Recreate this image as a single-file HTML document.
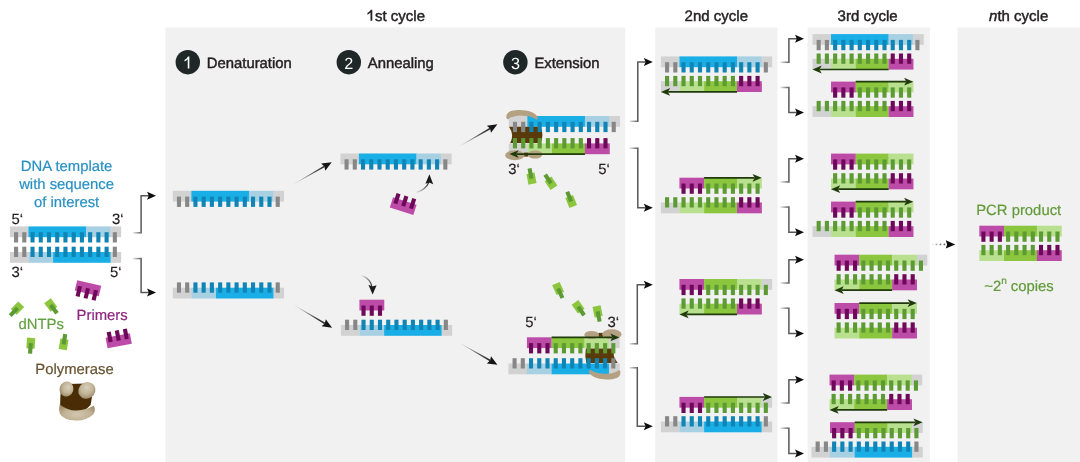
<!DOCTYPE html>
<html><head><meta charset="utf-8"><title>PCR</title><style>html,body{margin:0;padding:0;background:#fff;}body{width:1080px;height:462px;overflow:hidden;font-family:"Liberation Sans",sans-serif;}svg{display:block;text-rendering:geometricPrecision;filter:blur(0.33px);}</style></head><body>
<svg width="1090" height="472" viewBox="0 0 1090 472" font-family="&apos;Liberation Sans&apos;, sans-serif"><defs><radialGradient id="pg" cx="0.5" cy="0.45" r="0.6"><stop offset="0" stop-color="#c9bba2"/><stop offset="1" stop-color="#ac9878"/></radialGradient><radialGradient id="pg2" cx="0.55" cy="0.4" r="0.65" fx="0.6" fy="0.35"><stop offset="0" stop-color="#d8cfbc"/><stop offset="0.55" stop-color="#c3b598"/><stop offset="1" stop-color="#998563"/></radialGradient><radialGradient id="pg3" cx="0.5" cy="0.62" r="0.6"><stop offset="0" stop-color="#d2c7b2"/><stop offset="0.65" stop-color="#bfb193"/><stop offset="1" stop-color="#a3906f"/></radialGradient><linearGradient id="bg0" gradientUnits="userSpaceOnUse" x1="133" y1="0" x2="141.1" y2="0"><stop offset="0" stop-color="#5a5a5a" stop-opacity="0.15"/><stop offset="1" stop-color="#5a5a5a"/></linearGradient><linearGradient id="bg1" gradientUnits="userSpaceOnUse" x1="133" y1="0" x2="141.1" y2="0"><stop offset="0" stop-color="#5a5a5a" stop-opacity="0.15"/><stop offset="1" stop-color="#5a5a5a"/></linearGradient><linearGradient id="ag0" gradientUnits="userSpaceOnUse" x1="293.6" y1="184.1" x2="331.7" y2="162.2"><stop offset="0" stop-color="#151515" stop-opacity="0.05"/><stop offset="0.6" stop-color="#151515" stop-opacity="0.8"/><stop offset="1" stop-color="#151515"/></linearGradient><linearGradient id="ag1" gradientUnits="userSpaceOnUse" x1="294.1" y1="305.2" x2="332.1" y2="327.7"><stop offset="0" stop-color="#151515" stop-opacity="0.05"/><stop offset="0.6" stop-color="#151515" stop-opacity="0.8"/><stop offset="1" stop-color="#151515"/></linearGradient><linearGradient id="ca1" gradientUnits="userSpaceOnUse" x1="416.5" y1="192.5" x2="429" y2="182"><stop offset="0" stop-color="#222" stop-opacity="0.1"/><stop offset="1" stop-color="#222"/></linearGradient><linearGradient id="ca2" gradientUnits="userSpaceOnUse" x1="362.3" y1="275.6" x2="372" y2="287"><stop offset="0" stop-color="#222" stop-opacity="0.1"/><stop offset="1" stop-color="#222"/></linearGradient><linearGradient id="ag2" gradientUnits="userSpaceOnUse" x1="459.3" y1="146.3" x2="497.4" y2="124.3"><stop offset="0" stop-color="#151515" stop-opacity="0.05"/><stop offset="0.6" stop-color="#151515" stop-opacity="0.8"/><stop offset="1" stop-color="#151515"/></linearGradient><linearGradient id="ag3" gradientUnits="userSpaceOnUse" x1="459.9" y1="343.1" x2="497.4" y2="364.8"><stop offset="0" stop-color="#151515" stop-opacity="0.05"/><stop offset="0.6" stop-color="#151515" stop-opacity="0.8"/><stop offset="1" stop-color="#151515"/></linearGradient><linearGradient id="bg2" gradientUnits="userSpaceOnUse" x1="629.5" y1="0" x2="637.8" y2="0"><stop offset="0" stop-color="#5a5a5a" stop-opacity="0.15"/><stop offset="1" stop-color="#5a5a5a"/></linearGradient><linearGradient id="bg3" gradientUnits="userSpaceOnUse" x1="629.5" y1="0" x2="637.8" y2="0"><stop offset="0" stop-color="#5a5a5a" stop-opacity="0.15"/><stop offset="1" stop-color="#5a5a5a"/></linearGradient><linearGradient id="bg4" gradientUnits="userSpaceOnUse" x1="629.3" y1="0" x2="637.3" y2="0"><stop offset="0" stop-color="#5a5a5a" stop-opacity="0.15"/><stop offset="1" stop-color="#5a5a5a"/></linearGradient><linearGradient id="bg5" gradientUnits="userSpaceOnUse" x1="629.3" y1="0" x2="637.3" y2="0"><stop offset="0" stop-color="#5a5a5a" stop-opacity="0.15"/><stop offset="1" stop-color="#5a5a5a"/></linearGradient><linearGradient id="bg6" gradientUnits="userSpaceOnUse" x1="780.3" y1="0" x2="788.9" y2="0"><stop offset="0" stop-color="#5a5a5a" stop-opacity="0.15"/><stop offset="1" stop-color="#5a5a5a"/></linearGradient><linearGradient id="bg7" gradientUnits="userSpaceOnUse" x1="780.3" y1="0" x2="788.9" y2="0"><stop offset="0" stop-color="#5a5a5a" stop-opacity="0.15"/><stop offset="1" stop-color="#5a5a5a"/></linearGradient><linearGradient id="bg8" gradientUnits="userSpaceOnUse" x1="780.3" y1="0" x2="788.9" y2="0"><stop offset="0" stop-color="#5a5a5a" stop-opacity="0.15"/><stop offset="1" stop-color="#5a5a5a"/></linearGradient><linearGradient id="bg9" gradientUnits="userSpaceOnUse" x1="780.3" y1="0" x2="788.9" y2="0"><stop offset="0" stop-color="#5a5a5a" stop-opacity="0.15"/><stop offset="1" stop-color="#5a5a5a"/></linearGradient><linearGradient id="bg10" gradientUnits="userSpaceOnUse" x1="780.3" y1="0" x2="788.9" y2="0"><stop offset="0" stop-color="#5a5a5a" stop-opacity="0.15"/><stop offset="1" stop-color="#5a5a5a"/></linearGradient><linearGradient id="bg11" gradientUnits="userSpaceOnUse" x1="780.3" y1="0" x2="788.9" y2="0"><stop offset="0" stop-color="#5a5a5a" stop-opacity="0.15"/><stop offset="1" stop-color="#5a5a5a"/></linearGradient><linearGradient id="bg12" gradientUnits="userSpaceOnUse" x1="780.3" y1="0" x2="788.9" y2="0"><stop offset="0" stop-color="#5a5a5a" stop-opacity="0.15"/><stop offset="1" stop-color="#5a5a5a"/></linearGradient><linearGradient id="bg13" gradientUnits="userSpaceOnUse" x1="780.3" y1="0" x2="788.9" y2="0"><stop offset="0" stop-color="#5a5a5a" stop-opacity="0.15"/><stop offset="1" stop-color="#5a5a5a"/></linearGradient></defs><rect x="165.5" y="27.5" width="459.7" height="450" fill="#f1f1f1"/>
<rect x="655.2" y="27.5" width="122.3" height="450" fill="#f1f1f1"/>
<rect x="807.6" y="27.5" width="122.2" height="450" fill="#f1f1f1"/>
<rect x="957.6" y="27.5" width="137.4" height="450" fill="#f1f1f1"/>
<path d="M372.3 9.7 L372.3 20.7 L370.5 20.7 L370.5 12.6 Q369.1 14 367.4 14.7 L367.4 13 Q369.8 11.7 370.9 9.7 Z" fill="#231f20"/>
<text x="375" y="20.8" fill="#231f20" stroke="#231f20" stroke-width="0.45" font-size="15" text-anchor="start">st cycle</text>
<text x="716.3" y="20.8" fill="#231f20" stroke="#231f20" stroke-width="0.45" font-size="15" text-anchor="middle">2nd cycle</text>
<text x="867.6" y="20.8" fill="#231f20" stroke="#231f20" stroke-width="0.45" font-size="15" text-anchor="middle">3rd cycle</text>
<text x="1018.7" y="20.8" fill="#231f20" stroke="#231f20" stroke-width="0.45" font-size="15" text-anchor="middle"><tspan font-style="italic">n</tspan>th cycle</text>
<circle cx="187.8" cy="62.2" r="12.2" fill="#202727"/>
<text x="206.8" y="68.2" fill="#231f20" stroke="#231f20" stroke-width="0.45" font-size="14.85" text-anchor="start">Denaturation</text>
<circle cx="348.8" cy="62.2" r="12.2" fill="#202727"/>
<text x="367.8" y="68.2" fill="#231f20" stroke="#231f20" stroke-width="0.45" font-size="14.85" text-anchor="start">Annealing</text>
<circle cx="515.4" cy="62.2" r="12.2" fill="#202727"/>
<text x="534.4" y="68.2" fill="#231f20" stroke="#231f20" stroke-width="0.45" font-size="14.85" text-anchor="start">Extension</text>
<path d="M189.35 56.5 L189.35 68.6 L187.75 68.6 L187.75 59.2 Q186.4 60.7 184.5 61.6 L184.5 60.0 Q186.9 58.7 188.05 56.5 Z" fill="#fff"/>
<text x="348.8" y="68.65" fill="#fff" font-size="16.2" text-anchor="middle">2</text>
<text x="515.4" y="68.65" fill="#fff" font-size="16.2" text-anchor="middle">3</text>
<text x="66.6" y="171.2" fill="#2890c3" stroke="#2890c3" stroke-width="0.2" font-size="14.85" text-anchor="middle">DNA template</text>
<text x="66.6" y="189" fill="#2890c3" stroke="#2890c3" stroke-width="0.2" font-size="14.85" text-anchor="middle">with sequence</text>
<text x="66.6" y="206.7" fill="#2890c3" stroke="#2890c3" stroke-width="0.2" font-size="14.85" text-anchor="middle">of interest</text>
<text x="11.6" y="223.7" fill="#231f20" stroke="#231f20" stroke-width="0.15" font-size="14.85" text-anchor="start">5‘</text>
<text x="112" y="223.7" fill="#231f20" stroke="#231f20" stroke-width="0.15" font-size="14.85" text-anchor="start">3‘</text>
<text x="11.6" y="277" fill="#231f20" stroke="#231f20" stroke-width="0.15" font-size="14.85" text-anchor="start">3‘</text>
<text x="110" y="277" fill="#231f20" stroke="#231f20" stroke-width="0.15" font-size="14.85" text-anchor="start">5‘</text>
<rect x="9.9" y="226.4" width="18.67" height="10.8" fill="#d2d2d2"/>
<rect x="28.42" y="226.4" width="57.76" height="10.8" fill="#19aee6"/>
<rect x="86.03" y="226.4" width="24.84" height="10.8" fill="#a8d0e3"/>
<rect x="110.72" y="226.4" width="10.44" height="10.8" fill="#d2d2d2"/>
<rect x="9.9" y="252" width="18.67" height="10.8" fill="#d2d2d2"/>
<rect x="28.42" y="252" width="24.84" height="10.8" fill="#a8d0e3"/>
<rect x="53.11" y="252" width="57.76" height="10.8" fill="#19aee6"/>
<rect x="110.72" y="252" width="10.44" height="10.8" fill="#d2d2d2"/>
<rect x="14.02" y="232.2" width="4.1" height="10.3" fill="#878787"/>
<rect x="22.25" y="232.2" width="4.1" height="10.3" fill="#878787"/>
<rect x="30.48" y="232.2" width="4.1" height="10.3" fill="#1084b5"/>
<rect x="38.71" y="232.2" width="4.1" height="10.3" fill="#1084b5"/>
<rect x="46.94" y="232.2" width="4.1" height="10.3" fill="#1084b5"/>
<rect x="55.17" y="232.2" width="4.1" height="10.3" fill="#1084b5"/>
<rect x="63.4" y="232.2" width="4.1" height="10.3" fill="#1084b5"/>
<rect x="71.63" y="232.2" width="4.1" height="10.3" fill="#1084b5"/>
<rect x="79.86" y="232.2" width="4.1" height="10.3" fill="#1084b5"/>
<rect x="88.09" y="232.2" width="4.1" height="10.3" fill="#1084b5"/>
<rect x="96.32" y="232.2" width="4.1" height="10.3" fill="#1084b5"/>
<rect x="104.55" y="232.2" width="4.1" height="10.3" fill="#1084b5"/>
<rect x="112.78" y="232.2" width="4.1" height="10.3" fill="#878787"/>
<rect x="14.02" y="246.7" width="4.1" height="10.3" fill="#878787"/>
<rect x="22.25" y="246.7" width="4.1" height="10.3" fill="#878787"/>
<rect x="30.48" y="246.7" width="4.1" height="10.3" fill="#1084b5"/>
<rect x="38.71" y="246.7" width="4.1" height="10.3" fill="#1084b5"/>
<rect x="46.94" y="246.7" width="4.1" height="10.3" fill="#1084b5"/>
<rect x="55.17" y="246.7" width="4.1" height="10.3" fill="#1084b5"/>
<rect x="63.4" y="246.7" width="4.1" height="10.3" fill="#1084b5"/>
<rect x="71.63" y="246.7" width="4.1" height="10.3" fill="#1084b5"/>
<rect x="79.86" y="246.7" width="4.1" height="10.3" fill="#1084b5"/>
<rect x="88.09" y="246.7" width="4.1" height="10.3" fill="#1084b5"/>
<rect x="96.32" y="246.7" width="4.1" height="10.3" fill="#1084b5"/>
<rect x="104.55" y="246.7" width="4.1" height="10.3" fill="#1084b5"/>
<rect x="112.78" y="246.7" width="4.1" height="10.3" fill="#878787"/>
<line x1="133" y1="232.8" x2="140.4" y2="232.8" stroke="url(#bg0)" stroke-width="1.5"/>
<path d="M141.1 233.55V195.7H149" fill="none" stroke="#575757" stroke-width="1.5"/>
<path d="M156 195.7L147 191.7L148.8 195.7L147 199.7Z" fill="#0e0e0e"/>
<line x1="133" y1="258.6" x2="140.4" y2="258.6" stroke="url(#bg1)" stroke-width="1.5"/>
<path d="M141.1 257.85V292.5H149" fill="none" stroke="#575757" stroke-width="1.5"/>
<path d="M156 292.5L147 288.5L148.8 292.5L147 296.5Z" fill="#0e0e0e"/>
<g transform="translate(17.5 308.1) rotate(-136)"><rect x="-4.12" y="-5.35" width="8.23" height="10.7" fill="#8cc63f"/><rect x="-2.05" y="-10.45" width="4.1" height="10.45" fill="#5c9a33"/></g>
<g transform="translate(50.7 305) rotate(143)"><rect x="-4.12" y="-5.35" width="8.23" height="10.7" fill="#8cc63f"/><rect x="-2.05" y="-10.45" width="4.1" height="10.45" fill="#5c9a33"/></g>
<g transform="translate(30.8 343.2) rotate(184)"><rect x="-4.12" y="-5.35" width="8.23" height="10.7" fill="#8cc63f"/><rect x="-2.05" y="-10.45" width="4.1" height="10.45" fill="#5c9a33"/></g>
<g transform="translate(63.6 344.4) rotate(9)"><rect x="-4.12" y="-5.35" width="8.23" height="10.7" fill="#8cc63f"/><rect x="-2.05" y="-10.45" width="4.1" height="10.45" fill="#5c9a33"/></g>
<text x="18.5" y="329.2" fill="#66a042" stroke="#66a042" stroke-width="0.2" font-size="14.85" text-anchor="start">dNTPs</text>
<g transform="translate(88 288.2) rotate(13.4) scale(1 -1)"><rect x="-12.35" y="-5.35" width="24.7" height="10.7" fill="#bd4ca9"/><rect x="-10.28" y="-10.45" width="4.1" height="10.45" fill="#6e0858"/><rect x="-2.05" y="-10.45" width="4.1" height="10.45" fill="#6e0858"/><rect x="6.18" y="-10.45" width="4.1" height="10.45" fill="#6e0858"/></g>
<g transform="translate(118.7 340.7) rotate(-10.5)"><rect x="-12.35" y="-5.35" width="24.7" height="10.7" fill="#bd4ca9"/><rect x="-10.28" y="-10.45" width="4.1" height="10.45" fill="#6e0858"/><rect x="-2.05" y="-10.45" width="4.1" height="10.45" fill="#6e0858"/><rect x="6.18" y="-10.45" width="4.1" height="10.45" fill="#6e0858"/></g>
<text x="76.6" y="319.6" fill="#8e2582" stroke="#8e2582" stroke-width="0.2" font-size="14.85" text-anchor="start">Primers</text>
<text x="74.5" y="373.9" fill="#675230" stroke="#675230" stroke-width="0.2" font-size="14.85" text-anchor="middle">Polymerase</text>
<path d="M60.4 396 Q60.3 386.5 68 384 L86 383.6 Q92.5 386 92.3 395 L90.6 405 Q84 412.5 75.5 412.5 Q66 412.5 60 408 Z" fill="#4a2c06"/>
<ellipse cx="66.5" cy="389" rx="6.9" ry="7.6" transform="rotate(18 66.5 389)" fill="url(#pg2)"/>
<ellipse cx="86.9" cy="390.4" rx="8.8" ry="8.1" transform="rotate(-35 86.9 390.4)" fill="url(#pg2)"/>
<path d="M59.6 404.4 Q68 410.6 76.4 410.4 Q86.5 410 93.8 405.4 Q96.3 410.5 93.2 414.4 Q86 420.8 76 420.4 Q63 419.9 59.7 413.4 Q58.5 409 59.6 404.4 Z" fill="url(#pg3)"/>
<rect x="172.8" y="190.8" width="18.67" height="10.8" fill="#d2d2d2"/>
<rect x="191.32" y="190.8" width="57.76" height="10.8" fill="#19aee6"/>
<rect x="248.93" y="190.8" width="24.84" height="10.8" fill="#a8d0e3"/>
<rect x="273.62" y="190.8" width="10.44" height="10.8" fill="#d2d2d2"/>
<rect x="176.92" y="196.6" width="4.1" height="10.3" fill="#878787"/>
<rect x="185.15" y="196.6" width="4.1" height="10.3" fill="#878787"/>
<rect x="193.38" y="196.6" width="4.1" height="10.3" fill="#1084b5"/>
<rect x="201.61" y="196.6" width="4.1" height="10.3" fill="#1084b5"/>
<rect x="209.84" y="196.6" width="4.1" height="10.3" fill="#1084b5"/>
<rect x="218.07" y="196.6" width="4.1" height="10.3" fill="#1084b5"/>
<rect x="226.3" y="196.6" width="4.1" height="10.3" fill="#1084b5"/>
<rect x="234.53" y="196.6" width="4.1" height="10.3" fill="#1084b5"/>
<rect x="242.76" y="196.6" width="4.1" height="10.3" fill="#1084b5"/>
<rect x="250.99" y="196.6" width="4.1" height="10.3" fill="#1084b5"/>
<rect x="259.22" y="196.6" width="4.1" height="10.3" fill="#1084b5"/>
<rect x="267.45" y="196.6" width="4.1" height="10.3" fill="#1084b5"/>
<rect x="275.68" y="196.6" width="4.1" height="10.3" fill="#878787"/>
<rect x="172.8" y="287.7" width="18.67" height="10.8" fill="#d2d2d2"/>
<rect x="191.32" y="287.7" width="24.84" height="10.8" fill="#a8d0e3"/>
<rect x="216.01" y="287.7" width="57.76" height="10.8" fill="#19aee6"/>
<rect x="273.62" y="287.7" width="10.44" height="10.8" fill="#d2d2d2"/>
<rect x="176.92" y="282.4" width="4.1" height="10.3" fill="#878787"/>
<rect x="185.15" y="282.4" width="4.1" height="10.3" fill="#878787"/>
<rect x="193.38" y="282.4" width="4.1" height="10.3" fill="#1084b5"/>
<rect x="201.61" y="282.4" width="4.1" height="10.3" fill="#1084b5"/>
<rect x="209.84" y="282.4" width="4.1" height="10.3" fill="#1084b5"/>
<rect x="218.07" y="282.4" width="4.1" height="10.3" fill="#1084b5"/>
<rect x="226.3" y="282.4" width="4.1" height="10.3" fill="#1084b5"/>
<rect x="234.53" y="282.4" width="4.1" height="10.3" fill="#1084b5"/>
<rect x="242.76" y="282.4" width="4.1" height="10.3" fill="#1084b5"/>
<rect x="250.99" y="282.4" width="4.1" height="10.3" fill="#1084b5"/>
<rect x="259.22" y="282.4" width="4.1" height="10.3" fill="#1084b5"/>
<rect x="267.45" y="282.4" width="4.1" height="10.3" fill="#1084b5"/>
<rect x="275.68" y="282.4" width="4.1" height="10.3" fill="#878787"/>
<path d="M293.7 184.27L324.84 167.12L323.99 165.65L293.5 183.93Z" fill="url(#ag0)"/>
<path d="M331.7 162.2L325.25 170.64L324.42 166.39L321.16 163.53Z" fill="#151515"/>
<path d="M294 305.37L324.44 324.15L325.31 322.69L294.2 305.03Z" fill="url(#ag1)"/>
<path d="M332.1 327.7L321.58 326.23L324.87 323.42L325.76 319.18Z" fill="#151515"/>
<rect x="340.4" y="153.5" width="18.67" height="10.8" fill="#d2d2d2"/>
<rect x="358.92" y="153.5" width="57.76" height="10.8" fill="#19aee6"/>
<rect x="416.53" y="153.5" width="24.84" height="10.8" fill="#a8d0e3"/>
<rect x="441.22" y="153.5" width="10.44" height="10.8" fill="#d2d2d2"/>
<rect x="344.52" y="159.3" width="4.1" height="10.3" fill="#878787"/>
<rect x="352.75" y="159.3" width="4.1" height="10.3" fill="#878787"/>
<rect x="360.98" y="159.3" width="4.1" height="10.3" fill="#1084b5"/>
<rect x="369.21" y="159.3" width="4.1" height="10.3" fill="#1084b5"/>
<rect x="377.44" y="159.3" width="4.1" height="10.3" fill="#1084b5"/>
<rect x="385.67" y="159.3" width="4.1" height="10.3" fill="#1084b5"/>
<rect x="393.9" y="159.3" width="4.1" height="10.3" fill="#1084b5"/>
<rect x="402.13" y="159.3" width="4.1" height="10.3" fill="#1084b5"/>
<rect x="410.36" y="159.3" width="4.1" height="10.3" fill="#1084b5"/>
<rect x="418.59" y="159.3" width="4.1" height="10.3" fill="#1084b5"/>
<rect x="426.82" y="159.3" width="4.1" height="10.3" fill="#1084b5"/>
<rect x="435.05" y="159.3" width="4.1" height="10.3" fill="#1084b5"/>
<rect x="443.28" y="159.3" width="4.1" height="10.3" fill="#878787"/>
<g transform="translate(403.2 206.1) rotate(17.7)"><rect x="-12.35" y="-5.35" width="24.7" height="10.7" fill="#bd4ca9"/><rect x="-10.28" y="-10.45" width="4.1" height="10.45" fill="#6e0858"/><rect x="-2.05" y="-10.45" width="4.1" height="10.45" fill="#6e0858"/><rect x="6.18" y="-10.45" width="4.1" height="10.45" fill="#6e0858"/></g>
<path d="M416.5 192.5 Q426 189.5 429 182" fill="none" stroke="url(#ca1)" stroke-width="1.2"/>
<path d="M429.4 174.2 L433.2 184.2 L429.2 182.4 L425.4 183.8Z" fill="#1a1a1a"/>
<rect x="340.9" y="325" width="18.67" height="10.8" fill="#d2d2d2"/>
<rect x="359.42" y="325" width="24.84" height="10.8" fill="#a8d0e3"/>
<rect x="384.11" y="325" width="57.76" height="10.8" fill="#19aee6"/>
<rect x="441.72" y="325" width="10.44" height="10.8" fill="#d2d2d2"/>
<rect x="345.02" y="319.7" width="4.1" height="10.3" fill="#878787"/>
<rect x="353.25" y="319.7" width="4.1" height="10.3" fill="#878787"/>
<rect x="361.48" y="319.7" width="4.1" height="10.3" fill="#1084b5"/>
<rect x="369.71" y="319.7" width="4.1" height="10.3" fill="#1084b5"/>
<rect x="377.94" y="319.7" width="4.1" height="10.3" fill="#1084b5"/>
<rect x="386.17" y="319.7" width="4.1" height="10.3" fill="#1084b5"/>
<rect x="394.4" y="319.7" width="4.1" height="10.3" fill="#1084b5"/>
<rect x="402.63" y="319.7" width="4.1" height="10.3" fill="#1084b5"/>
<rect x="410.86" y="319.7" width="4.1" height="10.3" fill="#1084b5"/>
<rect x="419.09" y="319.7" width="4.1" height="10.3" fill="#1084b5"/>
<rect x="427.32" y="319.7" width="4.1" height="10.3" fill="#1084b5"/>
<rect x="435.55" y="319.7" width="4.1" height="10.3" fill="#1084b5"/>
<rect x="443.78" y="319.7" width="4.1" height="10.3" fill="#878787"/>
<rect x="359.42" y="299.7" width="24.84" height="10.8" fill="#bd4ca9"/>
<rect x="361.48" y="305.5" width="4.1" height="10.3" fill="#6e0858"/>
<rect x="369.71" y="305.5" width="4.1" height="10.3" fill="#6e0858"/>
<rect x="377.94" y="305.5" width="4.1" height="10.3" fill="#6e0858"/>
<path d="M362.3 275.6 Q370.5 279 372 287" fill="none" stroke="url(#ca2)" stroke-width="1.2"/>
<path d="M372.6 294.6 L368.4 284.8 L372.3 286.6 L376.6 285.2Z" fill="#1a1a1a"/>
<path d="M459.4 146.47L490.55 129.24L489.7 127.76L459.2 146.13Z" fill="url(#ag2)"/>
<path d="M497.4 124.3L490.96 132.75L490.13 128.5L486.86 125.65Z" fill="#151515"/>
<path d="M459.8 343.27L489.7 361.33L490.56 359.86L460 342.93Z" fill="url(#ag3)"/>
<path d="M497.4 364.8L486.86 363.44L490.13 360.59L490.97 356.34Z" fill="#151515"/>
<rect x="508.8" y="116" width="18.67" height="10.8" fill="#d2d2d2"/>
<rect x="527.32" y="116" width="57.76" height="10.8" fill="#19aee6"/>
<rect x="584.93" y="116" width="24.84" height="10.8" fill="#a8d0e3"/>
<rect x="609.62" y="116" width="10.44" height="10.8" fill="#d2d2d2"/>
<rect x="508.8" y="143.4" width="18.67" height="10.8" fill="#d2d2d2"/>
<rect x="527.32" y="143.4" width="24.84" height="10.8" fill="#b9e08f"/>
<rect x="552.01" y="143.4" width="33.07" height="10.8" fill="#8cc63f"/>
<rect x="584.93" y="143.4" width="24.84" height="10.8" fill="#bd4ca9"/>
<path d="M509 126.8 L540.6 126.8 Q544.2 134.9 540.6 143 L510.2 143 Q514.6 134.9 509 126.8Z" fill="#593a0a"/>
<rect x="512.92" y="121.8" width="4.1" height="10.3" fill="#878787"/>
<rect x="521.15" y="121.8" width="4.1" height="10.3" fill="#878787"/>
<rect x="529.38" y="121.8" width="4.1" height="10.3" fill="#1084b5"/>
<rect x="537.61" y="121.8" width="4.1" height="10.3" fill="#1084b5"/>
<rect x="545.84" y="121.8" width="4.1" height="10.3" fill="#1084b5"/>
<rect x="554.07" y="121.8" width="4.1" height="10.3" fill="#1084b5"/>
<rect x="562.3" y="121.8" width="4.1" height="10.3" fill="#1084b5"/>
<rect x="570.53" y="121.8" width="4.1" height="10.3" fill="#1084b5"/>
<rect x="578.76" y="121.8" width="4.1" height="10.3" fill="#1084b5"/>
<rect x="586.99" y="121.8" width="4.1" height="10.3" fill="#1084b5"/>
<rect x="595.22" y="121.8" width="4.1" height="10.3" fill="#1084b5"/>
<rect x="603.45" y="121.8" width="4.1" height="10.3" fill="#1084b5"/>
<rect x="611.68" y="121.8" width="4.1" height="10.3" fill="#878787"/>
<rect x="512.92" y="138.1" width="4.1" height="10.3" fill="#5c9a33"/>
<rect x="521.15" y="138.1" width="4.1" height="10.3" fill="#5c9a33"/>
<rect x="529.38" y="138.1" width="4.1" height="10.3" fill="#5c9a33"/>
<rect x="537.61" y="138.1" width="4.1" height="10.3" fill="#5c9a33"/>
<rect x="545.84" y="138.1" width="4.1" height="10.3" fill="#5c9a33"/>
<rect x="554.07" y="138.1" width="4.1" height="10.3" fill="#5c9a33"/>
<rect x="562.3" y="138.1" width="4.1" height="10.3" fill="#5c9a33"/>
<rect x="570.53" y="138.1" width="4.1" height="10.3" fill="#5c9a33"/>
<rect x="578.76" y="138.1" width="4.1" height="10.3" fill="#5c9a33"/>
<rect x="586.99" y="138.1" width="4.1" height="10.3" fill="#6e0858"/>
<rect x="595.22" y="138.1" width="4.1" height="10.3" fill="#6e0858"/>
<rect x="603.45" y="138.1" width="4.1" height="10.3" fill="#6e0858"/>
<path d="M506.3 116.6 C506.4 111.2 513 110.1 519.5 110.1 C528 110.2 535.2 112.4 537.6 117 C538.2 119.6 536.2 119.8 535.4 118.9 C531 116.2 526 115.7 521 115.8 C515 115.9 510.5 117 508.6 119 C507.2 119.9 506.2 118.6 506.3 116.6Z" fill="#b4a183"/><rect x="523.8" y="152.6" width="4.6" height="4" fill="#593a0a"/><ellipse cx="514.8" cy="155.2" rx="9.6" ry="5" fill="#b4a183"/><ellipse cx="535.1" cy="154.5" rx="7.3" ry="4.1" fill="#b4a183"/>
<line x1="584.93" y1="154.1" x2="516.6" y2="154.1" stroke="#1f3a0b" stroke-width="1.7"/>
<path d="M509.4 154.1L518.6 150.2L516.4 154.1L518.6 158Z" fill="#1f3a0b"/>
<text x="508.2" y="173.9" fill="#231f20" stroke="#231f20" stroke-width="0.15" font-size="14.85" text-anchor="start">3‘</text>
<text x="598.2" y="173.9" fill="#231f20" stroke="#231f20" stroke-width="0.15" font-size="14.85" text-anchor="start">5‘</text>
<g transform="translate(531.5 178.6) rotate(-10.9)"><rect x="-4.12" y="-5.35" width="8.23" height="10.7" fill="#8cc63f"/><rect x="-2.05" y="-10.45" width="4.1" height="10.45" fill="#5c9a33"/></g>
<g transform="translate(551 183.3) rotate(-33.9)"><rect x="-4.12" y="-5.35" width="8.23" height="10.7" fill="#8cc63f"/><rect x="-2.05" y="-10.45" width="4.1" height="10.45" fill="#5c9a33"/></g>
<g transform="translate(571.2 201.5) rotate(-22.2)"><rect x="-4.12" y="-5.35" width="8.23" height="10.7" fill="#8cc63f"/><rect x="-2.05" y="-10.45" width="4.1" height="10.45" fill="#5c9a33"/></g>
<rect x="526.92" y="337.3" width="24.84" height="10.8" fill="#bd4ca9"/>
<rect x="551.61" y="337.3" width="33.07" height="10.8" fill="#8cc63f"/>
<rect x="584.53" y="337.3" width="24.84" height="10.8" fill="#b9e08f"/>
<rect x="609.22" y="337.3" width="10.44" height="10.8" fill="#d2d2d2"/>
<rect x="508.4" y="363.5" width="18.67" height="10.8" fill="#d2d2d2"/>
<rect x="526.92" y="363.5" width="24.84" height="10.8" fill="#a8d0e3"/>
<rect x="551.61" y="363.5" width="57.76" height="10.8" fill="#19aee6"/>
<rect x="609.22" y="363.5" width="10.44" height="10.8" fill="#d2d2d2"/>
<path d="M585.8 348.6 L615 348.6 Q611.3 355.6 617.7 362.9 L586.3 362.9 Q584.7 355.6 585.8 348.6 Z" fill="#593a0a"/>
<rect x="528.98" y="343.1" width="4.1" height="10.3" fill="#6e0858"/>
<rect x="537.21" y="343.1" width="4.1" height="10.3" fill="#6e0858"/>
<rect x="545.44" y="343.1" width="4.1" height="10.3" fill="#6e0858"/>
<rect x="553.67" y="343.1" width="4.1" height="10.3" fill="#5c9a33"/>
<rect x="561.9" y="343.1" width="4.1" height="10.3" fill="#5c9a33"/>
<rect x="570.13" y="343.1" width="4.1" height="10.3" fill="#5c9a33"/>
<rect x="578.36" y="343.1" width="4.1" height="10.3" fill="#5c9a33"/>
<rect x="586.59" y="343.1" width="4.1" height="10.3" fill="#5c9a33"/>
<rect x="594.82" y="343.1" width="4.1" height="10.3" fill="#5c9a33"/>
<rect x="603.05" y="343.1" width="4.1" height="10.3" fill="#5c9a33"/>
<rect x="611.28" y="343.1" width="4.1" height="10.3" fill="#5c9a33"/>
<rect x="512.52" y="358.2" width="4.1" height="10.3" fill="#878787"/>
<rect x="520.75" y="358.2" width="4.1" height="10.3" fill="#878787"/>
<rect x="528.98" y="358.2" width="4.1" height="10.3" fill="#1084b5"/>
<rect x="537.21" y="358.2" width="4.1" height="10.3" fill="#1084b5"/>
<rect x="545.44" y="358.2" width="4.1" height="10.3" fill="#1084b5"/>
<rect x="553.67" y="358.2" width="4.1" height="10.3" fill="#1084b5"/>
<rect x="561.9" y="358.2" width="4.1" height="10.3" fill="#1084b5"/>
<rect x="570.13" y="358.2" width="4.1" height="10.3" fill="#1084b5"/>
<rect x="578.36" y="358.2" width="4.1" height="10.3" fill="#1084b5"/>
<rect x="586.59" y="358.2" width="4.1" height="10.3" fill="#1084b5"/>
<rect x="594.82" y="358.2" width="4.1" height="10.3" fill="#1084b5"/>
<rect x="603.05" y="358.2" width="4.1" height="10.3" fill="#1084b5"/>
<rect x="611.28" y="358.2" width="4.1" height="10.3" fill="#878787"/>
<g transform="translate(1126.7 489.5) scale(-1 -1)"><path d="M506.3 116.6 C506.4 111.2 513 110.1 519.5 110.1 C528 110.2 535.2 112.4 537.6 117 C538.2 119.6 536.2 119.8 535.4 118.9 C531 116.2 526 115.7 521 115.8 C515 115.9 510.5 117 508.6 119 C507.2 119.9 506.2 118.6 506.3 116.6Z" fill="#b4a183"/><rect x="523.8" y="152.6" width="4.6" height="4" fill="#593a0a"/><ellipse cx="514.8" cy="155.2" rx="9.6" ry="5" fill="#b4a183"/><ellipse cx="535.1" cy="154.5" rx="7.3" ry="4.1" fill="#b4a183"/></g>
<line x1="551.61" y1="337.4" x2="612.3" y2="337.4" stroke="#1f3a0b" stroke-width="1.7"/>
<path d="M619.5 337.4L610.3 333.5L612.5 337.4L610.3 341.3Z" fill="#1f3a0b"/>
<text x="525.2" y="327" fill="#231f20" stroke="#231f20" stroke-width="0.15" font-size="14.85" text-anchor="start">5‘</text>
<text x="607.6" y="327" fill="#231f20" stroke="#231f20" stroke-width="0.15" font-size="14.85" text-anchor="start">3‘</text>
<g transform="translate(558.1 288.5) rotate(155.4)"><rect x="-4.12" y="-5.35" width="8.23" height="10.7" fill="#8cc63f"/><rect x="-2.05" y="-10.45" width="4.1" height="10.45" fill="#5c9a33"/></g>
<g transform="translate(578.1 306.7) rotate(144.7)"><rect x="-4.12" y="-5.35" width="8.23" height="10.7" fill="#8cc63f"/><rect x="-2.05" y="-10.45" width="4.1" height="10.45" fill="#5c9a33"/></g>
<g transform="translate(597.6 311.4) rotate(168.8)"><rect x="-4.12" y="-5.35" width="8.23" height="10.7" fill="#8cc63f"/><rect x="-2.05" y="-10.45" width="4.1" height="10.45" fill="#5c9a33"/></g>
<line x1="629.5" y1="121.3" x2="637.1" y2="121.3" stroke="url(#bg2)" stroke-width="1.5"/>
<path d="M637.8 122.05V62.1H645.8" fill="none" stroke="#575757" stroke-width="1.5"/>
<path d="M652.8 62.1L643.8 58.1L645.6 62.1L643.8 66.1Z" fill="#0e0e0e"/>
<line x1="629.5" y1="148.2" x2="637.1" y2="148.2" stroke="url(#bg3)" stroke-width="1.5"/>
<path d="M637.8 147.45V207.7H645.8" fill="none" stroke="#575757" stroke-width="1.5"/>
<path d="M652.8 207.7L643.8 203.7L645.6 207.7L643.8 211.7Z" fill="#0e0e0e"/>
<line x1="629.3" y1="343.8" x2="636.6" y2="343.8" stroke="url(#bg4)" stroke-width="1.5"/>
<path d="M637.3 344.55V284.7H645.8" fill="none" stroke="#575757" stroke-width="1.5"/>
<path d="M652.8 284.7L643.8 280.7L645.6 284.7L643.8 288.7Z" fill="#0e0e0e"/>
<line x1="629.3" y1="367.8" x2="636.6" y2="367.8" stroke="url(#bg5)" stroke-width="1.5"/>
<path d="M637.3 367.05V426.2H645.8" fill="none" stroke="#575757" stroke-width="1.5"/>
<path d="M652.8 426.2L643.8 422.2L645.6 426.2L643.8 430.2Z" fill="#0e0e0e"/>
<rect x="660.9" y="56.4" width="18.67" height="10.8" fill="#d2d2d2"/>
<rect x="679.42" y="56.4" width="57.76" height="10.8" fill="#19aee6"/>
<rect x="737.03" y="56.4" width="24.84" height="10.8" fill="#a8d0e3"/>
<rect x="761.72" y="56.4" width="10.44" height="10.8" fill="#d2d2d2"/>
<rect x="660.9" y="81.2" width="18.67" height="10.8" fill="#d2d2d2"/>
<rect x="679.42" y="81.2" width="24.84" height="10.8" fill="#b9e08f"/>
<rect x="704.11" y="81.2" width="33.07" height="10.8" fill="#8cc63f"/>
<rect x="737.03" y="81.2" width="24.84" height="10.8" fill="#bd4ca9"/>
<rect x="665.02" y="62.2" width="4.1" height="10.3" fill="#878787"/>
<rect x="673.25" y="62.2" width="4.1" height="10.3" fill="#878787"/>
<rect x="681.48" y="62.2" width="4.1" height="10.3" fill="#1084b5"/>
<rect x="689.71" y="62.2" width="4.1" height="10.3" fill="#1084b5"/>
<rect x="697.94" y="62.2" width="4.1" height="10.3" fill="#1084b5"/>
<rect x="706.17" y="62.2" width="4.1" height="10.3" fill="#1084b5"/>
<rect x="714.4" y="62.2" width="4.1" height="10.3" fill="#1084b5"/>
<rect x="722.63" y="62.2" width="4.1" height="10.3" fill="#1084b5"/>
<rect x="730.86" y="62.2" width="4.1" height="10.3" fill="#1084b5"/>
<rect x="739.09" y="62.2" width="4.1" height="10.3" fill="#1084b5"/>
<rect x="747.32" y="62.2" width="4.1" height="10.3" fill="#1084b5"/>
<rect x="755.55" y="62.2" width="4.1" height="10.3" fill="#1084b5"/>
<rect x="763.78" y="62.2" width="4.1" height="10.3" fill="#878787"/>
<rect x="665.02" y="75.9" width="4.1" height="10.3" fill="#5c9a33"/>
<rect x="673.25" y="75.9" width="4.1" height="10.3" fill="#5c9a33"/>
<rect x="681.48" y="75.9" width="4.1" height="10.3" fill="#5c9a33"/>
<rect x="689.71" y="75.9" width="4.1" height="10.3" fill="#5c9a33"/>
<rect x="697.94" y="75.9" width="4.1" height="10.3" fill="#5c9a33"/>
<rect x="706.17" y="75.9" width="4.1" height="10.3" fill="#5c9a33"/>
<rect x="714.4" y="75.9" width="4.1" height="10.3" fill="#5c9a33"/>
<rect x="722.63" y="75.9" width="4.1" height="10.3" fill="#5c9a33"/>
<rect x="730.86" y="75.9" width="4.1" height="10.3" fill="#5c9a33"/>
<rect x="739.09" y="75.9" width="4.1" height="10.3" fill="#6e0858"/>
<rect x="747.32" y="75.9" width="4.1" height="10.3" fill="#6e0858"/>
<rect x="755.55" y="75.9" width="4.1" height="10.3" fill="#6e0858"/>
<line x1="737.03" y1="91.9" x2="668.1" y2="91.9" stroke="#1f3a0b" stroke-width="1.7"/>
<path d="M660.9 91.9L670.1 88L667.9 91.9L670.1 95.8Z" fill="#1f3a0b"/>
<rect x="679.42" y="177.7" width="24.84" height="10.8" fill="#bd4ca9"/>
<rect x="704.11" y="177.7" width="33.07" height="10.8" fill="#8cc63f"/>
<rect x="737.03" y="177.7" width="24.84" height="10.8" fill="#b9e08f"/>
<rect x="660.9" y="202.5" width="18.67" height="10.8" fill="#d2d2d2"/>
<rect x="679.42" y="202.5" width="24.84" height="10.8" fill="#b9e08f"/>
<rect x="704.11" y="202.5" width="33.07" height="10.8" fill="#8cc63f"/>
<rect x="737.03" y="202.5" width="24.84" height="10.8" fill="#bd4ca9"/>
<rect x="681.48" y="183.5" width="4.1" height="10.3" fill="#6e0858"/>
<rect x="689.71" y="183.5" width="4.1" height="10.3" fill="#6e0858"/>
<rect x="697.94" y="183.5" width="4.1" height="10.3" fill="#6e0858"/>
<rect x="706.17" y="183.5" width="4.1" height="10.3" fill="#5c9a33"/>
<rect x="714.4" y="183.5" width="4.1" height="10.3" fill="#5c9a33"/>
<rect x="722.63" y="183.5" width="4.1" height="10.3" fill="#5c9a33"/>
<rect x="730.86" y="183.5" width="4.1" height="10.3" fill="#5c9a33"/>
<rect x="739.09" y="183.5" width="4.1" height="10.3" fill="#5c9a33"/>
<rect x="747.32" y="183.5" width="4.1" height="10.3" fill="#5c9a33"/>
<rect x="755.55" y="183.5" width="4.1" height="10.3" fill="#5c9a33"/>
<rect x="665.02" y="197.2" width="4.1" height="10.3" fill="#5c9a33"/>
<rect x="673.25" y="197.2" width="4.1" height="10.3" fill="#5c9a33"/>
<rect x="681.48" y="197.2" width="4.1" height="10.3" fill="#5c9a33"/>
<rect x="689.71" y="197.2" width="4.1" height="10.3" fill="#5c9a33"/>
<rect x="697.94" y="197.2" width="4.1" height="10.3" fill="#5c9a33"/>
<rect x="706.17" y="197.2" width="4.1" height="10.3" fill="#5c9a33"/>
<rect x="714.4" y="197.2" width="4.1" height="10.3" fill="#5c9a33"/>
<rect x="722.63" y="197.2" width="4.1" height="10.3" fill="#5c9a33"/>
<rect x="730.86" y="197.2" width="4.1" height="10.3" fill="#5c9a33"/>
<rect x="739.09" y="197.2" width="4.1" height="10.3" fill="#6e0858"/>
<rect x="747.32" y="197.2" width="4.1" height="10.3" fill="#6e0858"/>
<rect x="755.55" y="197.2" width="4.1" height="10.3" fill="#6e0858"/>
<line x1="704.11" y1="177.8" x2="754.52" y2="177.8" stroke="#1f3a0b" stroke-width="1.7"/>
<path d="M761.72 177.8L752.52 173.9L754.72 177.8L752.52 181.7Z" fill="#1f3a0b"/>
<rect x="679.42" y="279" width="24.84" height="10.8" fill="#bd4ca9"/>
<rect x="704.11" y="279" width="33.07" height="10.8" fill="#8cc63f"/>
<rect x="737.03" y="279" width="24.84" height="10.8" fill="#b9e08f"/>
<rect x="761.72" y="279" width="10.44" height="10.8" fill="#d2d2d2"/>
<rect x="679.42" y="303.7" width="24.84" height="10.8" fill="#b9e08f"/>
<rect x="704.11" y="303.7" width="33.07" height="10.8" fill="#8cc63f"/>
<rect x="737.03" y="303.7" width="24.84" height="10.8" fill="#bd4ca9"/>
<rect x="681.48" y="284.8" width="4.1" height="10.3" fill="#6e0858"/>
<rect x="689.71" y="284.8" width="4.1" height="10.3" fill="#6e0858"/>
<rect x="697.94" y="284.8" width="4.1" height="10.3" fill="#6e0858"/>
<rect x="706.17" y="284.8" width="4.1" height="10.3" fill="#5c9a33"/>
<rect x="714.4" y="284.8" width="4.1" height="10.3" fill="#5c9a33"/>
<rect x="722.63" y="284.8" width="4.1" height="10.3" fill="#5c9a33"/>
<rect x="730.86" y="284.8" width="4.1" height="10.3" fill="#5c9a33"/>
<rect x="739.09" y="284.8" width="4.1" height="10.3" fill="#5c9a33"/>
<rect x="747.32" y="284.8" width="4.1" height="10.3" fill="#5c9a33"/>
<rect x="755.55" y="284.8" width="4.1" height="10.3" fill="#5c9a33"/>
<rect x="763.78" y="284.8" width="4.1" height="10.3" fill="#5c9a33"/>
<rect x="681.48" y="298.4" width="4.1" height="10.3" fill="#5c9a33"/>
<rect x="689.71" y="298.4" width="4.1" height="10.3" fill="#5c9a33"/>
<rect x="697.94" y="298.4" width="4.1" height="10.3" fill="#5c9a33"/>
<rect x="706.17" y="298.4" width="4.1" height="10.3" fill="#5c9a33"/>
<rect x="714.4" y="298.4" width="4.1" height="10.3" fill="#5c9a33"/>
<rect x="722.63" y="298.4" width="4.1" height="10.3" fill="#5c9a33"/>
<rect x="730.86" y="298.4" width="4.1" height="10.3" fill="#5c9a33"/>
<rect x="739.09" y="298.4" width="4.1" height="10.3" fill="#6e0858"/>
<rect x="747.32" y="298.4" width="4.1" height="10.3" fill="#6e0858"/>
<rect x="755.55" y="298.4" width="4.1" height="10.3" fill="#6e0858"/>
<line x1="737.03" y1="314.4" x2="686.62" y2="314.4" stroke="#1f3a0b" stroke-width="1.7"/>
<path d="M679.42 314.4L688.62 310.5L686.42 314.4L688.62 318.3Z" fill="#1f3a0b"/>
<rect x="679.42" y="396.9" width="24.84" height="10.8" fill="#bd4ca9"/>
<rect x="704.11" y="396.9" width="33.07" height="10.8" fill="#8cc63f"/>
<rect x="737.03" y="396.9" width="24.84" height="10.8" fill="#b9e08f"/>
<rect x="761.72" y="396.9" width="10.44" height="10.8" fill="#d2d2d2"/>
<rect x="660.9" y="421.5" width="18.67" height="10.8" fill="#d2d2d2"/>
<rect x="679.42" y="421.5" width="24.84" height="10.8" fill="#a8d0e3"/>
<rect x="704.11" y="421.5" width="57.76" height="10.8" fill="#19aee6"/>
<rect x="761.72" y="421.5" width="10.44" height="10.8" fill="#d2d2d2"/>
<rect x="681.48" y="402.7" width="4.1" height="10.3" fill="#6e0858"/>
<rect x="689.71" y="402.7" width="4.1" height="10.3" fill="#6e0858"/>
<rect x="697.94" y="402.7" width="4.1" height="10.3" fill="#6e0858"/>
<rect x="706.17" y="402.7" width="4.1" height="10.3" fill="#5c9a33"/>
<rect x="714.4" y="402.7" width="4.1" height="10.3" fill="#5c9a33"/>
<rect x="722.63" y="402.7" width="4.1" height="10.3" fill="#5c9a33"/>
<rect x="730.86" y="402.7" width="4.1" height="10.3" fill="#5c9a33"/>
<rect x="739.09" y="402.7" width="4.1" height="10.3" fill="#5c9a33"/>
<rect x="747.32" y="402.7" width="4.1" height="10.3" fill="#5c9a33"/>
<rect x="755.55" y="402.7" width="4.1" height="10.3" fill="#5c9a33"/>
<rect x="763.78" y="402.7" width="4.1" height="10.3" fill="#5c9a33"/>
<rect x="665.02" y="416.2" width="4.1" height="10.3" fill="#878787"/>
<rect x="673.25" y="416.2" width="4.1" height="10.3" fill="#878787"/>
<rect x="681.48" y="416.2" width="4.1" height="10.3" fill="#1084b5"/>
<rect x="689.71" y="416.2" width="4.1" height="10.3" fill="#1084b5"/>
<rect x="697.94" y="416.2" width="4.1" height="10.3" fill="#1084b5"/>
<rect x="706.17" y="416.2" width="4.1" height="10.3" fill="#1084b5"/>
<rect x="714.4" y="416.2" width="4.1" height="10.3" fill="#1084b5"/>
<rect x="722.63" y="416.2" width="4.1" height="10.3" fill="#1084b5"/>
<rect x="730.86" y="416.2" width="4.1" height="10.3" fill="#1084b5"/>
<rect x="739.09" y="416.2" width="4.1" height="10.3" fill="#1084b5"/>
<rect x="747.32" y="416.2" width="4.1" height="10.3" fill="#1084b5"/>
<rect x="755.55" y="416.2" width="4.1" height="10.3" fill="#1084b5"/>
<rect x="763.78" y="416.2" width="4.1" height="10.3" fill="#878787"/>
<line x1="704.11" y1="397" x2="764.8" y2="397" stroke="#1f3a0b" stroke-width="1.7"/>
<path d="M772 397L762.8 393.1L765 397L762.8 400.9Z" fill="#1f3a0b"/>
<line x1="780.3" y1="62.3" x2="788.2" y2="62.3" stroke="url(#bg6)" stroke-width="1.5"/>
<path d="M788.9 63.05V38.7H797" fill="none" stroke="#575757" stroke-width="1.5"/>
<path d="M804 38.7L795 34.7L796.8 38.7L795 42.7Z" fill="#0e0e0e"/>
<line x1="780.3" y1="87.5" x2="788.2" y2="87.5" stroke="url(#bg7)" stroke-width="1.5"/>
<path d="M788.9 86.75V112.4H797" fill="none" stroke="#575757" stroke-width="1.5"/>
<path d="M804 112.4L795 108.4L796.8 112.4L795 116.4Z" fill="#0e0e0e"/>
<line x1="780.3" y1="181.9" x2="788.2" y2="181.9" stroke="url(#bg8)" stroke-width="1.5"/>
<path d="M788.9 182.65V158.8H797" fill="none" stroke="#575757" stroke-width="1.5"/>
<path d="M804 158.8L795 154.8L796.8 158.8L795 162.8Z" fill="#0e0e0e"/>
<line x1="780.3" y1="207.1" x2="788.2" y2="207.1" stroke="url(#bg9)" stroke-width="1.5"/>
<path d="M788.9 206.35V232.3H797" fill="none" stroke="#575757" stroke-width="1.5"/>
<path d="M804 232.3L795 228.3L796.8 232.3L795 236.3Z" fill="#0e0e0e"/>
<line x1="780.3" y1="283" x2="788.2" y2="283" stroke="url(#bg10)" stroke-width="1.5"/>
<path d="M788.9 283.75V259.7H797" fill="none" stroke="#575757" stroke-width="1.5"/>
<path d="M804 259.7L795 255.7L796.8 259.7L795 263.7Z" fill="#0e0e0e"/>
<line x1="780.3" y1="308.2" x2="788.2" y2="308.2" stroke="url(#bg11)" stroke-width="1.5"/>
<path d="M788.9 307.45V333.4H797" fill="none" stroke="#575757" stroke-width="1.5"/>
<path d="M804 333.4L795 329.4L796.8 333.4L795 337.4Z" fill="#0e0e0e"/>
<line x1="780.3" y1="403" x2="788.2" y2="403" stroke="url(#bg12)" stroke-width="1.5"/>
<path d="M788.9 403.75V379.7H797" fill="none" stroke="#575757" stroke-width="1.5"/>
<path d="M804 379.7L795 375.7L796.8 379.7L795 383.7Z" fill="#0e0e0e"/>
<line x1="780.3" y1="428.2" x2="788.2" y2="428.2" stroke="url(#bg13)" stroke-width="1.5"/>
<path d="M788.9 427.45V453.4H797" fill="none" stroke="#575757" stroke-width="1.5"/>
<path d="M804 453.4L795 449.4L796.8 453.4L795 457.4Z" fill="#0e0e0e"/>
<rect x="812.5" y="34.1" width="18.67" height="10.8" fill="#d2d2d2"/>
<rect x="831.02" y="34.1" width="57.76" height="10.8" fill="#19aee6"/>
<rect x="888.63" y="34.1" width="24.84" height="10.8" fill="#a8d0e3"/>
<rect x="913.32" y="34.1" width="10.44" height="10.8" fill="#d2d2d2"/>
<rect x="812.5" y="58.8" width="18.67" height="10.8" fill="#d2d2d2"/>
<rect x="831.02" y="58.8" width="24.84" height="10.8" fill="#b9e08f"/>
<rect x="855.71" y="58.8" width="33.07" height="10.8" fill="#8cc63f"/>
<rect x="888.63" y="58.8" width="24.84" height="10.8" fill="#bd4ca9"/>
<rect x="816.62" y="39.9" width="4.1" height="10.3" fill="#878787"/>
<rect x="824.85" y="39.9" width="4.1" height="10.3" fill="#878787"/>
<rect x="833.08" y="39.9" width="4.1" height="10.3" fill="#1084b5"/>
<rect x="841.31" y="39.9" width="4.1" height="10.3" fill="#1084b5"/>
<rect x="849.54" y="39.9" width="4.1" height="10.3" fill="#1084b5"/>
<rect x="857.77" y="39.9" width="4.1" height="10.3" fill="#1084b5"/>
<rect x="866" y="39.9" width="4.1" height="10.3" fill="#1084b5"/>
<rect x="874.23" y="39.9" width="4.1" height="10.3" fill="#1084b5"/>
<rect x="882.46" y="39.9" width="4.1" height="10.3" fill="#1084b5"/>
<rect x="890.69" y="39.9" width="4.1" height="10.3" fill="#1084b5"/>
<rect x="898.92" y="39.9" width="4.1" height="10.3" fill="#1084b5"/>
<rect x="907.15" y="39.9" width="4.1" height="10.3" fill="#1084b5"/>
<rect x="915.38" y="39.9" width="4.1" height="10.3" fill="#878787"/>
<rect x="816.62" y="53.5" width="4.1" height="10.3" fill="#5c9a33"/>
<rect x="824.85" y="53.5" width="4.1" height="10.3" fill="#5c9a33"/>
<rect x="833.08" y="53.5" width="4.1" height="10.3" fill="#5c9a33"/>
<rect x="841.31" y="53.5" width="4.1" height="10.3" fill="#5c9a33"/>
<rect x="849.54" y="53.5" width="4.1" height="10.3" fill="#5c9a33"/>
<rect x="857.77" y="53.5" width="4.1" height="10.3" fill="#5c9a33"/>
<rect x="866" y="53.5" width="4.1" height="10.3" fill="#5c9a33"/>
<rect x="874.23" y="53.5" width="4.1" height="10.3" fill="#5c9a33"/>
<rect x="882.46" y="53.5" width="4.1" height="10.3" fill="#5c9a33"/>
<rect x="890.69" y="53.5" width="4.1" height="10.3" fill="#6e0858"/>
<rect x="898.92" y="53.5" width="4.1" height="10.3" fill="#6e0858"/>
<rect x="907.15" y="53.5" width="4.1" height="10.3" fill="#6e0858"/>
<line x1="888.63" y1="69.5" x2="819.7" y2="69.5" stroke="#1f3a0b" stroke-width="1.7"/>
<path d="M812.5 69.5L821.7 65.6L819.5 69.5L821.7 73.4Z" fill="#1f3a0b"/>
<rect x="831.02" y="81.6" width="24.84" height="10.8" fill="#bd4ca9"/>
<rect x="855.71" y="81.6" width="33.07" height="10.8" fill="#8cc63f"/>
<rect x="888.63" y="81.6" width="24.84" height="10.8" fill="#b9e08f"/>
<rect x="812.5" y="106.2" width="18.67" height="10.8" fill="#d2d2d2"/>
<rect x="831.02" y="106.2" width="24.84" height="10.8" fill="#b9e08f"/>
<rect x="855.71" y="106.2" width="33.07" height="10.8" fill="#8cc63f"/>
<rect x="888.63" y="106.2" width="24.84" height="10.8" fill="#bd4ca9"/>
<rect x="833.08" y="87.4" width="4.1" height="10.3" fill="#6e0858"/>
<rect x="841.31" y="87.4" width="4.1" height="10.3" fill="#6e0858"/>
<rect x="849.54" y="87.4" width="4.1" height="10.3" fill="#6e0858"/>
<rect x="857.77" y="87.4" width="4.1" height="10.3" fill="#5c9a33"/>
<rect x="866" y="87.4" width="4.1" height="10.3" fill="#5c9a33"/>
<rect x="874.23" y="87.4" width="4.1" height="10.3" fill="#5c9a33"/>
<rect x="882.46" y="87.4" width="4.1" height="10.3" fill="#5c9a33"/>
<rect x="890.69" y="87.4" width="4.1" height="10.3" fill="#5c9a33"/>
<rect x="898.92" y="87.4" width="4.1" height="10.3" fill="#5c9a33"/>
<rect x="907.15" y="87.4" width="4.1" height="10.3" fill="#5c9a33"/>
<rect x="816.62" y="100.9" width="4.1" height="10.3" fill="#5c9a33"/>
<rect x="824.85" y="100.9" width="4.1" height="10.3" fill="#5c9a33"/>
<rect x="833.08" y="100.9" width="4.1" height="10.3" fill="#5c9a33"/>
<rect x="841.31" y="100.9" width="4.1" height="10.3" fill="#5c9a33"/>
<rect x="849.54" y="100.9" width="4.1" height="10.3" fill="#5c9a33"/>
<rect x="857.77" y="100.9" width="4.1" height="10.3" fill="#5c9a33"/>
<rect x="866" y="100.9" width="4.1" height="10.3" fill="#5c9a33"/>
<rect x="874.23" y="100.9" width="4.1" height="10.3" fill="#5c9a33"/>
<rect x="882.46" y="100.9" width="4.1" height="10.3" fill="#5c9a33"/>
<rect x="890.69" y="100.9" width="4.1" height="10.3" fill="#6e0858"/>
<rect x="898.92" y="100.9" width="4.1" height="10.3" fill="#6e0858"/>
<rect x="907.15" y="100.9" width="4.1" height="10.3" fill="#6e0858"/>
<line x1="855.71" y1="81.7" x2="906.12" y2="81.7" stroke="#1f3a0b" stroke-width="1.7"/>
<path d="M913.32 81.7L904.12 77.8L906.32 81.7L904.12 85.6Z" fill="#1f3a0b"/>
<rect x="831.02" y="153.6" width="24.84" height="10.8" fill="#bd4ca9"/>
<rect x="855.71" y="153.6" width="33.07" height="10.8" fill="#8cc63f"/>
<rect x="888.63" y="153.6" width="24.84" height="10.8" fill="#b9e08f"/>
<rect x="831.02" y="178.5" width="24.84" height="10.8" fill="#b9e08f"/>
<rect x="855.71" y="178.5" width="33.07" height="10.8" fill="#8cc63f"/>
<rect x="888.63" y="178.5" width="24.84" height="10.8" fill="#bd4ca9"/>
<rect x="833.08" y="159.4" width="4.1" height="10.3" fill="#6e0858"/>
<rect x="841.31" y="159.4" width="4.1" height="10.3" fill="#6e0858"/>
<rect x="849.54" y="159.4" width="4.1" height="10.3" fill="#6e0858"/>
<rect x="857.77" y="159.4" width="4.1" height="10.3" fill="#5c9a33"/>
<rect x="866" y="159.4" width="4.1" height="10.3" fill="#5c9a33"/>
<rect x="874.23" y="159.4" width="4.1" height="10.3" fill="#5c9a33"/>
<rect x="882.46" y="159.4" width="4.1" height="10.3" fill="#5c9a33"/>
<rect x="890.69" y="159.4" width="4.1" height="10.3" fill="#5c9a33"/>
<rect x="898.92" y="159.4" width="4.1" height="10.3" fill="#5c9a33"/>
<rect x="907.15" y="159.4" width="4.1" height="10.3" fill="#5c9a33"/>
<rect x="833.08" y="173.2" width="4.1" height="10.3" fill="#5c9a33"/>
<rect x="841.31" y="173.2" width="4.1" height="10.3" fill="#5c9a33"/>
<rect x="849.54" y="173.2" width="4.1" height="10.3" fill="#5c9a33"/>
<rect x="857.77" y="173.2" width="4.1" height="10.3" fill="#5c9a33"/>
<rect x="866" y="173.2" width="4.1" height="10.3" fill="#5c9a33"/>
<rect x="874.23" y="173.2" width="4.1" height="10.3" fill="#5c9a33"/>
<rect x="882.46" y="173.2" width="4.1" height="10.3" fill="#5c9a33"/>
<rect x="890.69" y="173.2" width="4.1" height="10.3" fill="#6e0858"/>
<rect x="898.92" y="173.2" width="4.1" height="10.3" fill="#6e0858"/>
<rect x="907.15" y="173.2" width="4.1" height="10.3" fill="#6e0858"/>
<line x1="888.63" y1="189.2" x2="838.22" y2="189.2" stroke="#1f3a0b" stroke-width="1.7"/>
<path d="M831.02 189.2L840.22 185.3L838.02 189.2L840.22 193.1Z" fill="#1f3a0b"/>
<rect x="831.02" y="201.6" width="24.84" height="10.8" fill="#bd4ca9"/>
<rect x="855.71" y="201.6" width="33.07" height="10.8" fill="#8cc63f"/>
<rect x="888.63" y="201.6" width="24.84" height="10.8" fill="#b9e08f"/>
<rect x="812.5" y="226.2" width="18.67" height="10.8" fill="#d2d2d2"/>
<rect x="831.02" y="226.2" width="24.84" height="10.8" fill="#b9e08f"/>
<rect x="855.71" y="226.2" width="33.07" height="10.8" fill="#8cc63f"/>
<rect x="888.63" y="226.2" width="24.84" height="10.8" fill="#bd4ca9"/>
<rect x="833.08" y="207.4" width="4.1" height="10.3" fill="#6e0858"/>
<rect x="841.31" y="207.4" width="4.1" height="10.3" fill="#6e0858"/>
<rect x="849.54" y="207.4" width="4.1" height="10.3" fill="#6e0858"/>
<rect x="857.77" y="207.4" width="4.1" height="10.3" fill="#5c9a33"/>
<rect x="866" y="207.4" width="4.1" height="10.3" fill="#5c9a33"/>
<rect x="874.23" y="207.4" width="4.1" height="10.3" fill="#5c9a33"/>
<rect x="882.46" y="207.4" width="4.1" height="10.3" fill="#5c9a33"/>
<rect x="890.69" y="207.4" width="4.1" height="10.3" fill="#5c9a33"/>
<rect x="898.92" y="207.4" width="4.1" height="10.3" fill="#5c9a33"/>
<rect x="907.15" y="207.4" width="4.1" height="10.3" fill="#5c9a33"/>
<rect x="816.62" y="220.9" width="4.1" height="10.3" fill="#5c9a33"/>
<rect x="824.85" y="220.9" width="4.1" height="10.3" fill="#5c9a33"/>
<rect x="833.08" y="220.9" width="4.1" height="10.3" fill="#5c9a33"/>
<rect x="841.31" y="220.9" width="4.1" height="10.3" fill="#5c9a33"/>
<rect x="849.54" y="220.9" width="4.1" height="10.3" fill="#5c9a33"/>
<rect x="857.77" y="220.9" width="4.1" height="10.3" fill="#5c9a33"/>
<rect x="866" y="220.9" width="4.1" height="10.3" fill="#5c9a33"/>
<rect x="874.23" y="220.9" width="4.1" height="10.3" fill="#5c9a33"/>
<rect x="882.46" y="220.9" width="4.1" height="10.3" fill="#5c9a33"/>
<rect x="890.69" y="220.9" width="4.1" height="10.3" fill="#6e0858"/>
<rect x="898.92" y="220.9" width="4.1" height="10.3" fill="#6e0858"/>
<rect x="907.15" y="220.9" width="4.1" height="10.3" fill="#6e0858"/>
<line x1="855.71" y1="201.7" x2="906.12" y2="201.7" stroke="#1f3a0b" stroke-width="1.7"/>
<path d="M913.32 201.7L904.12 197.8L906.32 201.7L904.12 205.6Z" fill="#1f3a0b"/>
<rect x="834.52" y="254.7" width="24.84" height="10.8" fill="#bd4ca9"/>
<rect x="859.21" y="254.7" width="33.07" height="10.8" fill="#8cc63f"/>
<rect x="892.13" y="254.7" width="24.84" height="10.8" fill="#b9e08f"/>
<rect x="916.82" y="254.7" width="10.44" height="10.8" fill="#d2d2d2"/>
<rect x="834.52" y="279.5" width="24.84" height="10.8" fill="#b9e08f"/>
<rect x="859.21" y="279.5" width="33.07" height="10.8" fill="#8cc63f"/>
<rect x="892.13" y="279.5" width="24.84" height="10.8" fill="#bd4ca9"/>
<rect x="836.58" y="260.5" width="4.1" height="10.3" fill="#6e0858"/>
<rect x="844.81" y="260.5" width="4.1" height="10.3" fill="#6e0858"/>
<rect x="853.04" y="260.5" width="4.1" height="10.3" fill="#6e0858"/>
<rect x="861.27" y="260.5" width="4.1" height="10.3" fill="#5c9a33"/>
<rect x="869.5" y="260.5" width="4.1" height="10.3" fill="#5c9a33"/>
<rect x="877.73" y="260.5" width="4.1" height="10.3" fill="#5c9a33"/>
<rect x="885.96" y="260.5" width="4.1" height="10.3" fill="#5c9a33"/>
<rect x="894.19" y="260.5" width="4.1" height="10.3" fill="#5c9a33"/>
<rect x="902.42" y="260.5" width="4.1" height="10.3" fill="#5c9a33"/>
<rect x="910.65" y="260.5" width="4.1" height="10.3" fill="#5c9a33"/>
<rect x="918.88" y="260.5" width="4.1" height="10.3" fill="#5c9a33"/>
<rect x="836.58" y="274.2" width="4.1" height="10.3" fill="#5c9a33"/>
<rect x="844.81" y="274.2" width="4.1" height="10.3" fill="#5c9a33"/>
<rect x="853.04" y="274.2" width="4.1" height="10.3" fill="#5c9a33"/>
<rect x="861.27" y="274.2" width="4.1" height="10.3" fill="#5c9a33"/>
<rect x="869.5" y="274.2" width="4.1" height="10.3" fill="#5c9a33"/>
<rect x="877.73" y="274.2" width="4.1" height="10.3" fill="#5c9a33"/>
<rect x="885.96" y="274.2" width="4.1" height="10.3" fill="#5c9a33"/>
<rect x="894.19" y="274.2" width="4.1" height="10.3" fill="#6e0858"/>
<rect x="902.42" y="274.2" width="4.1" height="10.3" fill="#6e0858"/>
<rect x="910.65" y="274.2" width="4.1" height="10.3" fill="#6e0858"/>
<line x1="892.13" y1="290.2" x2="841.72" y2="290.2" stroke="#1f3a0b" stroke-width="1.7"/>
<path d="M834.52 290.2L843.72 286.3L841.52 290.2L843.72 294.1Z" fill="#1f3a0b"/>
<rect x="834.52" y="303" width="24.84" height="10.8" fill="#bd4ca9"/>
<rect x="859.21" y="303" width="33.07" height="10.8" fill="#8cc63f"/>
<rect x="892.13" y="303" width="24.84" height="10.8" fill="#b9e08f"/>
<rect x="834.52" y="327.7" width="24.84" height="10.8" fill="#b9e08f"/>
<rect x="859.21" y="327.7" width="33.07" height="10.8" fill="#8cc63f"/>
<rect x="892.13" y="327.7" width="24.84" height="10.8" fill="#bd4ca9"/>
<rect x="836.58" y="308.8" width="4.1" height="10.3" fill="#6e0858"/>
<rect x="844.81" y="308.8" width="4.1" height="10.3" fill="#6e0858"/>
<rect x="853.04" y="308.8" width="4.1" height="10.3" fill="#6e0858"/>
<rect x="861.27" y="308.8" width="4.1" height="10.3" fill="#5c9a33"/>
<rect x="869.5" y="308.8" width="4.1" height="10.3" fill="#5c9a33"/>
<rect x="877.73" y="308.8" width="4.1" height="10.3" fill="#5c9a33"/>
<rect x="885.96" y="308.8" width="4.1" height="10.3" fill="#5c9a33"/>
<rect x="894.19" y="308.8" width="4.1" height="10.3" fill="#5c9a33"/>
<rect x="902.42" y="308.8" width="4.1" height="10.3" fill="#5c9a33"/>
<rect x="910.65" y="308.8" width="4.1" height="10.3" fill="#5c9a33"/>
<rect x="836.58" y="322.4" width="4.1" height="10.3" fill="#5c9a33"/>
<rect x="844.81" y="322.4" width="4.1" height="10.3" fill="#5c9a33"/>
<rect x="853.04" y="322.4" width="4.1" height="10.3" fill="#5c9a33"/>
<rect x="861.27" y="322.4" width="4.1" height="10.3" fill="#5c9a33"/>
<rect x="869.5" y="322.4" width="4.1" height="10.3" fill="#5c9a33"/>
<rect x="877.73" y="322.4" width="4.1" height="10.3" fill="#5c9a33"/>
<rect x="885.96" y="322.4" width="4.1" height="10.3" fill="#5c9a33"/>
<rect x="894.19" y="322.4" width="4.1" height="10.3" fill="#6e0858"/>
<rect x="902.42" y="322.4" width="4.1" height="10.3" fill="#6e0858"/>
<rect x="910.65" y="322.4" width="4.1" height="10.3" fill="#6e0858"/>
<line x1="859.21" y1="303.1" x2="909.62" y2="303.1" stroke="#1f3a0b" stroke-width="1.7"/>
<path d="M916.82 303.1L907.62 299.2L909.82 303.1L907.62 307Z" fill="#1f3a0b"/>
<rect x="829.52" y="374.6" width="24.84" height="10.8" fill="#bd4ca9"/>
<rect x="854.21" y="374.6" width="33.07" height="10.8" fill="#8cc63f"/>
<rect x="887.13" y="374.6" width="24.84" height="10.8" fill="#b9e08f"/>
<rect x="911.82" y="374.6" width="10.44" height="10.8" fill="#d2d2d2"/>
<rect x="829.52" y="399.2" width="24.84" height="10.8" fill="#b9e08f"/>
<rect x="854.21" y="399.2" width="33.07" height="10.8" fill="#8cc63f"/>
<rect x="887.13" y="399.2" width="24.84" height="10.8" fill="#bd4ca9"/>
<rect x="831.58" y="380.4" width="4.1" height="10.3" fill="#6e0858"/>
<rect x="839.81" y="380.4" width="4.1" height="10.3" fill="#6e0858"/>
<rect x="848.04" y="380.4" width="4.1" height="10.3" fill="#6e0858"/>
<rect x="856.27" y="380.4" width="4.1" height="10.3" fill="#5c9a33"/>
<rect x="864.5" y="380.4" width="4.1" height="10.3" fill="#5c9a33"/>
<rect x="872.73" y="380.4" width="4.1" height="10.3" fill="#5c9a33"/>
<rect x="880.96" y="380.4" width="4.1" height="10.3" fill="#5c9a33"/>
<rect x="889.19" y="380.4" width="4.1" height="10.3" fill="#5c9a33"/>
<rect x="897.42" y="380.4" width="4.1" height="10.3" fill="#5c9a33"/>
<rect x="905.65" y="380.4" width="4.1" height="10.3" fill="#5c9a33"/>
<rect x="913.88" y="380.4" width="4.1" height="10.3" fill="#5c9a33"/>
<rect x="831.58" y="393.9" width="4.1" height="10.3" fill="#5c9a33"/>
<rect x="839.81" y="393.9" width="4.1" height="10.3" fill="#5c9a33"/>
<rect x="848.04" y="393.9" width="4.1" height="10.3" fill="#5c9a33"/>
<rect x="856.27" y="393.9" width="4.1" height="10.3" fill="#5c9a33"/>
<rect x="864.5" y="393.9" width="4.1" height="10.3" fill="#5c9a33"/>
<rect x="872.73" y="393.9" width="4.1" height="10.3" fill="#5c9a33"/>
<rect x="880.96" y="393.9" width="4.1" height="10.3" fill="#5c9a33"/>
<rect x="889.19" y="393.9" width="4.1" height="10.3" fill="#6e0858"/>
<rect x="897.42" y="393.9" width="4.1" height="10.3" fill="#6e0858"/>
<rect x="905.65" y="393.9" width="4.1" height="10.3" fill="#6e0858"/>
<line x1="887.13" y1="409.9" x2="836.72" y2="409.9" stroke="#1f3a0b" stroke-width="1.7"/>
<path d="M829.52 409.9L838.72 406L836.52 409.9L838.72 413.8Z" fill="#1f3a0b"/>
<rect x="830.02" y="422.2" width="24.84" height="10.8" fill="#bd4ca9"/>
<rect x="854.71" y="422.2" width="33.07" height="10.8" fill="#8cc63f"/>
<rect x="887.63" y="422.2" width="24.84" height="10.8" fill="#b9e08f"/>
<rect x="912.32" y="422.2" width="10.44" height="10.8" fill="#d2d2d2"/>
<rect x="811.5" y="446.8" width="18.67" height="10.8" fill="#d2d2d2"/>
<rect x="830.02" y="446.8" width="24.84" height="10.8" fill="#a8d0e3"/>
<rect x="854.71" y="446.8" width="57.76" height="10.8" fill="#19aee6"/>
<rect x="912.32" y="446.8" width="10.44" height="10.8" fill="#d2d2d2"/>
<rect x="832.08" y="428" width="4.1" height="10.3" fill="#6e0858"/>
<rect x="840.31" y="428" width="4.1" height="10.3" fill="#6e0858"/>
<rect x="848.54" y="428" width="4.1" height="10.3" fill="#6e0858"/>
<rect x="856.77" y="428" width="4.1" height="10.3" fill="#5c9a33"/>
<rect x="865" y="428" width="4.1" height="10.3" fill="#5c9a33"/>
<rect x="873.23" y="428" width="4.1" height="10.3" fill="#5c9a33"/>
<rect x="881.46" y="428" width="4.1" height="10.3" fill="#5c9a33"/>
<rect x="889.69" y="428" width="4.1" height="10.3" fill="#5c9a33"/>
<rect x="897.92" y="428" width="4.1" height="10.3" fill="#5c9a33"/>
<rect x="906.15" y="428" width="4.1" height="10.3" fill="#5c9a33"/>
<rect x="914.38" y="428" width="4.1" height="10.3" fill="#5c9a33"/>
<rect x="815.62" y="441.5" width="4.1" height="10.3" fill="#878787"/>
<rect x="823.85" y="441.5" width="4.1" height="10.3" fill="#878787"/>
<rect x="832.08" y="441.5" width="4.1" height="10.3" fill="#1084b5"/>
<rect x="840.31" y="441.5" width="4.1" height="10.3" fill="#1084b5"/>
<rect x="848.54" y="441.5" width="4.1" height="10.3" fill="#1084b5"/>
<rect x="856.77" y="441.5" width="4.1" height="10.3" fill="#1084b5"/>
<rect x="865" y="441.5" width="4.1" height="10.3" fill="#1084b5"/>
<rect x="873.23" y="441.5" width="4.1" height="10.3" fill="#1084b5"/>
<rect x="881.46" y="441.5" width="4.1" height="10.3" fill="#1084b5"/>
<rect x="889.69" y="441.5" width="4.1" height="10.3" fill="#1084b5"/>
<rect x="897.92" y="441.5" width="4.1" height="10.3" fill="#1084b5"/>
<rect x="906.15" y="441.5" width="4.1" height="10.3" fill="#1084b5"/>
<rect x="914.38" y="441.5" width="4.1" height="10.3" fill="#878787"/>
<line x1="854.71" y1="422.3" x2="915.4" y2="422.3" stroke="#1f3a0b" stroke-width="1.7"/>
<path d="M922.61 422.3L913.4 418.4L915.61 422.3L913.4 426.2Z" fill="#1f3a0b"/>
<circle cx="932.9" cy="244.4" r="0.95" fill="#e6e6e6"/>
<circle cx="936.5" cy="244.4" r="0.95" fill="#aaa"/>
<circle cx="940.4" cy="244.4" r="0.95" fill="#777"/>
<circle cx="944.4" cy="244.4" r="0.95" fill="#666"/>
<path d="M955.2 244.4 L945.8 240.3 L947.1 244.4 L945.8 248.5Z" fill="#0a0a0a"/>
<text x="1018.7" y="214.5" fill="#629b3a" stroke="#629b3a" stroke-width="0.2" font-size="14.85" text-anchor="middle">PCR product</text>
<rect x="979.3" y="225.7" width="24.84" height="10.8" fill="#bd4ca9"/>
<rect x="1003.99" y="225.7" width="33.07" height="10.8" fill="#8cc63f"/>
<rect x="1036.91" y="225.7" width="24.84" height="10.8" fill="#b9e08f"/>
<rect x="979.3" y="250.2" width="24.84" height="10.8" fill="#b9e08f"/>
<rect x="1003.99" y="250.2" width="33.07" height="10.8" fill="#8cc63f"/>
<rect x="1036.91" y="250.2" width="24.84" height="10.8" fill="#bd4ca9"/>
<rect x="981.37" y="231.5" width="4.1" height="10.3" fill="#6e0858"/>
<rect x="989.59" y="231.5" width="4.1" height="10.3" fill="#6e0858"/>
<rect x="997.82" y="231.5" width="4.1" height="10.3" fill="#6e0858"/>
<rect x="1006.05" y="231.5" width="4.1" height="10.3" fill="#5c9a33"/>
<rect x="1014.28" y="231.5" width="4.1" height="10.3" fill="#5c9a33"/>
<rect x="1022.51" y="231.5" width="4.1" height="10.3" fill="#5c9a33"/>
<rect x="1030.74" y="231.5" width="4.1" height="10.3" fill="#5c9a33"/>
<rect x="1038.97" y="231.5" width="4.1" height="10.3" fill="#5c9a33"/>
<rect x="1047.2" y="231.5" width="4.1" height="10.3" fill="#5c9a33"/>
<rect x="1055.43" y="231.5" width="4.1" height="10.3" fill="#5c9a33"/>
<rect x="981.37" y="244.9" width="4.1" height="10.3" fill="#5c9a33"/>
<rect x="989.59" y="244.9" width="4.1" height="10.3" fill="#5c9a33"/>
<rect x="997.82" y="244.9" width="4.1" height="10.3" fill="#5c9a33"/>
<rect x="1006.05" y="244.9" width="4.1" height="10.3" fill="#5c9a33"/>
<rect x="1014.28" y="244.9" width="4.1" height="10.3" fill="#5c9a33"/>
<rect x="1022.51" y="244.9" width="4.1" height="10.3" fill="#5c9a33"/>
<rect x="1030.74" y="244.9" width="4.1" height="10.3" fill="#5c9a33"/>
<rect x="1038.97" y="244.9" width="4.1" height="10.3" fill="#6e0858"/>
<rect x="1047.2" y="244.9" width="4.1" height="10.3" fill="#6e0858"/>
<rect x="1055.43" y="244.9" width="4.1" height="10.3" fill="#6e0858"/>
<text x="1019" y="290.8" fill="#629b3a" stroke="#629b3a" stroke-width="0.2" font-size="14.85" text-anchor="middle">~2<tspan font-size="10" dy="-6.5">n</tspan><tspan dy="6.5"> copies</tspan></text></svg>
</body></html>
